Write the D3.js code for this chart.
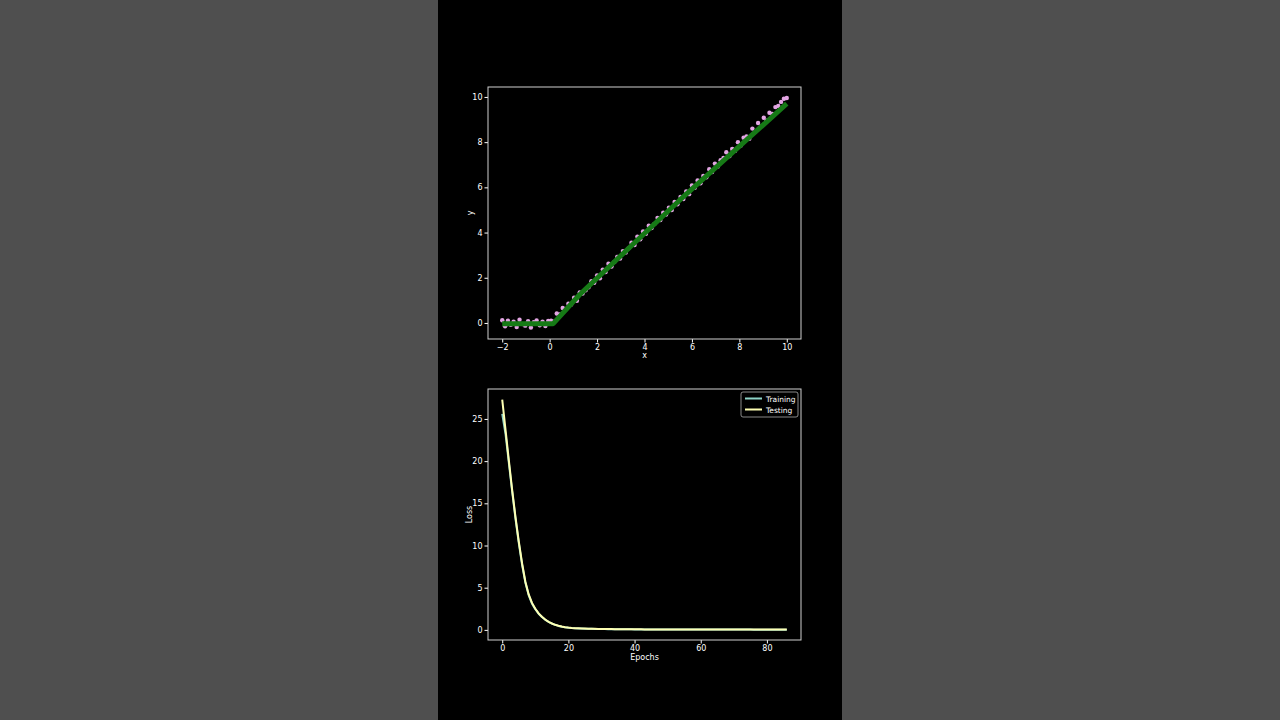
<!DOCTYPE html>
<html>
<head>
<meta charset="utf-8">
<script src="https://cdn.jsdelivr.net/npm/d3@7"></script>
<style>
  body { margin: 0; background: #4f4f4f; }
  text { font-family: "DejaVu Sans", sans-serif; }
</style>
</head>
<body>
<div id="chart"></div>
<script>
// Scatter data
var pointX = [-2.00,-1.88,-1.76,-1.64,-1.52,-1.39,-1.27,-1.15,-1.03,-0.91,-0.79,-0.67,-0.55,-0.42,-0.30,-0.18,-0.06,
  0.06,0.18,0.30,0.42,0.55,0.67,0.79,0.91,1.03,1.15,1.27,1.39,1.52,1.64,1.76,1.88,2.00,2.12,2.24,2.36,2.48,2.61,2.73,2.85,
  2.97,3.09,3.21,3.33,3.45,3.58,3.70,3.82,3.94,4.06,4.18,4.30,4.42,4.55,4.67,4.79,4.91,5.03,5.15,5.27,5.39,5.52,5.64,5.76,
  5.88,6.00,6.12,6.24,6.36,6.48,6.61,6.73,6.85,6.97,7.09,7.21,7.33,7.45,7.58,7.70,7.82,7.94,8.06,8.18,8.30,8.42,8.55,8.67,
  8.79,8.91,9.03,9.15,9.27,9.39,9.52,9.64,9.76,9.88,10.00];
var pointY = [0.12,-0.15,0.10,-0.08,0.05,-0.18,0.14,-0.05,-0.12,0.08,-0.20,0.03,0.11,-0.10,0.06,-0.14,0.09,
  0.10,0.05,0.42,0.38,0.66,0.60,0.85,0.82,1.12,0.98,1.35,1.30,1.45,1.58,1.85,1.78,2.10,1.98,2.36,2.25,2.62,2.50,2.70,2.92,
  2.85,3.18,3.12,3.30,3.55,3.45,3.82,3.70,4.05,3.95,4.30,4.20,4.38,4.65,4.55,4.88,4.80,5.10,5.00,5.35,5.25,5.58,5.48,5.82,
  5.70,6.08,5.98,6.30,6.18,6.50,6.45,6.80,6.68,7.05,6.92,7.20,7.30,7.55,7.38,7.70,7.62,8.00,7.85,8.20,8.25,8.15,8.60,8.45,
  8.85,8.70,9.08,8.95,9.30,9.25,9.55,9.60,9.78,9.92,9.95];

// Model prediction (green line)
var fitX = [-2.0, 0.15, 1.26, 5.47, 10.0];
var fitY = [-0.03, -0.03, 1.25, 5.42, 9.70];

// Loss curves
var trainLoss = [25.6,23.2,19.8,16.4,13.2,10.3,7.7,5.6,4.1,3.1,2.45,1.92,1.52,1.2,0.95,0.75,0.59,0.47,0.38,0.31,0.26,
  0.22,0.19,0.17,0.155,0.14,0.13,0.12,0.11,0.1,0.095,0.09,0.085,0.08,0.076,0.072,0.069,0.066,0.063,0.06,0.058,
  0.056,0.054,0.052,0.05,0.049,0.048,0.047,0.046,0.045,0.044,0.043,0.042,0.041,0.04,0.04,0.039,0.038,0.038,0.037,0.036,
  0.036,0.035,0.035,0.034,0.034,0.033,0.033,0.032,0.032,0.031,0.031,0.031,0.03,0.03,0.03,0.029,0.029,0.029,0.028,0.028,
  0.028,0.028,0.027,0.027,0.027,0.027];
var testLoss = [27.3,23.7,20.1,16.6,13.4,10.5,7.9,5.7,4.2,3.2,2.5,1.95,1.55,1.22,0.96,0.76,0.6,0.48,0.39,0.32,0.27,
  0.23,0.2,0.18,0.16,0.15,0.14,0.13,0.12,0.11,0.105,0.1,0.095,0.09,0.085,0.08,0.077,0.074,0.071,0.068,0.065,
  0.063,0.061,0.059,0.057,0.055,0.054,0.053,0.052,0.051,0.05,0.049,0.048,0.047,0.046,0.045,0.044,0.043,0.043,0.042,0.041,
  0.041,0.04,0.04,0.039,0.039,0.038,0.038,0.037,0.037,0.036,0.036,0.036,0.035,0.035,0.035,0.034,0.034,0.034,0.033,0.033,
  0.033,0.033,0.032,0.032,0.032,0.032];

var topXTicks = [-2, 0, 2, 4, 6, 8, 10];
var topYTicks = [0, 2, 4, 6, 8, 10];
var lossXTicks = [0, 20, 40, 60, 80];
var lossYTicks = [0, 5, 10, 15, 20, 25];

var svg = d3.select("#chart").append("svg")
  .attr("width", 1280).attr("height", 720);

svg.append("rect").attr("width", 1280).attr("height", 720).attr("fill", "#4f4f4f");
svg.append("rect").attr("x", 438).attr("y", 0).attr("width", 404).attr("height", 720).attr("fill", "#000");

var left = 488, right = 801;

function styleAxis(g) {
  g.select(".domain").remove();
  g.selectAll(".tick line").attr("stroke", "#fff");
  g.selectAll(".tick text").attr("fill", "#fff").style("font-size", "8px")
    .style("font-family", "DejaVu Sans, sans-serif");
}

function frame(top, bottom) {
  svg.append("rect")
    .attr("x", left).attr("y", top)
    .attr("width", right - left).attr("height", bottom - top)
    .attr("fill", "none").attr("stroke", "#d0d0d0").attr("stroke-width", 1);
}

// ---- Top chart: data and fit
var t1 = 87, b1 = 339;
var x1 = d3.scaleLinear().domain([-2.6, 10.6]).range([left, right]);
var y1 = d3.scaleLinear().domain([-0.71, 10.44]).range([b1, t1]);

svg.append("g").attr("transform", "translate(0," + b1 + ")")
  .call(d3.axisBottom(x1).tickValues(topXTicks).tickSize(3.5).tickPadding(2).tickFormat(d3.format("d")))
  .call(styleAxis);
svg.append("g").attr("transform", "translate(" + left + ",0)")
  .call(d3.axisLeft(y1).tickValues(topYTicks).tickSize(3.5).tickPadding(2).tickFormat(d3.format("d")))
  .call(styleAxis);

svg.append("g").selectAll("circle")
  .data(pointX)
  .enter().append("circle")
    .attr("cx", function(d) { return x1(d); })
    .attr("cy", function(d, i) { return y1(pointY[i]); })
    .attr("r", 2.2)
    .attr("fill", "#e3a5e3");

var fitLine = d3.line()
  .x(function(d) { return x1(d); })
  .y(function(d, i) { return y1(fitY[i]); });
svg.append("path")
  .attr("d", fitLine(fitX))
  .attr("fill", "none")
  .attr("stroke", "#167a16")
  .attr("stroke-width", 5)
  .attr("stroke-linejoin", "round");

frame(t1, b1);

svg.append("text").attr("x", (left + right) / 2).attr("y", 358)
  .attr("text-anchor", "middle").attr("fill", "#fff").style("font-size", "8px").text("x");
svg.append("text").attr("transform", "translate(473," + (t1 + b1) / 2 + ") rotate(-90)")
  .attr("text-anchor", "middle").attr("fill", "#fff").style("font-size", "8px").text("y");

// ---- Bottom chart: loss curves
var t2 = 389, b2 = 640;
var x2 = d3.scaleLinear().domain([-4.3, 90.3]).range([left, right]);
var y2 = d3.scaleLinear().domain([-1.2, 28.55]).range([b2, t2]);

svg.append("g").attr("transform", "translate(0," + b2 + ")")
  .call(d3.axisBottom(x2).tickValues(lossXTicks).tickSize(3.5).tickPadding(2).tickFormat(d3.format("d")))
  .call(styleAxis);
svg.append("g").attr("transform", "translate(" + left + ",0)")
  .call(d3.axisLeft(y2).tickValues(lossYTicks).tickSize(3.5).tickPadding(2).tickFormat(d3.format("d")))
  .call(styleAxis);

var lossLine = d3.line()
  .x(function(d, i) { return x2(i); })
  .y(function(d) { return y2(d); });

var series = [
  { name: "Training", values: trainLoss, color: "#8dd3c7" },
  { name: "Testing", values: testLoss, color: "#feffb3" }
];

svg.selectAll("lossLines")
  .data(series)
  .enter().append("path")
    .attr("d", function(d) { return lossLine(d.values); })
    .attr("fill", "none")
    .attr("stroke", function(d) { return d.color; })
    .attr("stroke-width", 2)
    .attr("stroke-linejoin", "round");

frame(t2, b2);

svg.append("text").attr("x", (left + right) / 2).attr("y", 660)
  .attr("text-anchor", "middle").attr("fill", "#fff").style("font-size", "8px").text("Epochs");
svg.append("text").attr("transform", "translate(472," + (t2 + b2) / 2 + ") rotate(-90)")
  .attr("text-anchor", "middle").attr("fill", "#fff").style("font-size", "8px").text("Loss");

// Legend
var legend = svg.append("g").attr("transform", "translate(741,392)");
legend.append("rect")
  .attr("width", 57).attr("height", 25).attr("rx", 2)
  .attr("fill", "#000").attr("stroke", "#aaaaaa").attr("stroke-width", 0.8);
var items = legend.selectAll("g.item")
  .data(series)
  .enter().append("g")
    .attr("transform", function(d, i) { return "translate(0," + (6.5 + i * 11) + ")"; });
items.append("line")
  .attr("x1", 4).attr("x2", 21)
  .attr("stroke", function(d) { return d.color; })
  .attr("stroke-width", 2);
items.append("text")
  .attr("x", 25).attr("y", 3)
  .attr("fill", "#fff").style("font-size", "7.5px")
  .text(function(d) { return d.name; });
</script>
</body>
</html>
